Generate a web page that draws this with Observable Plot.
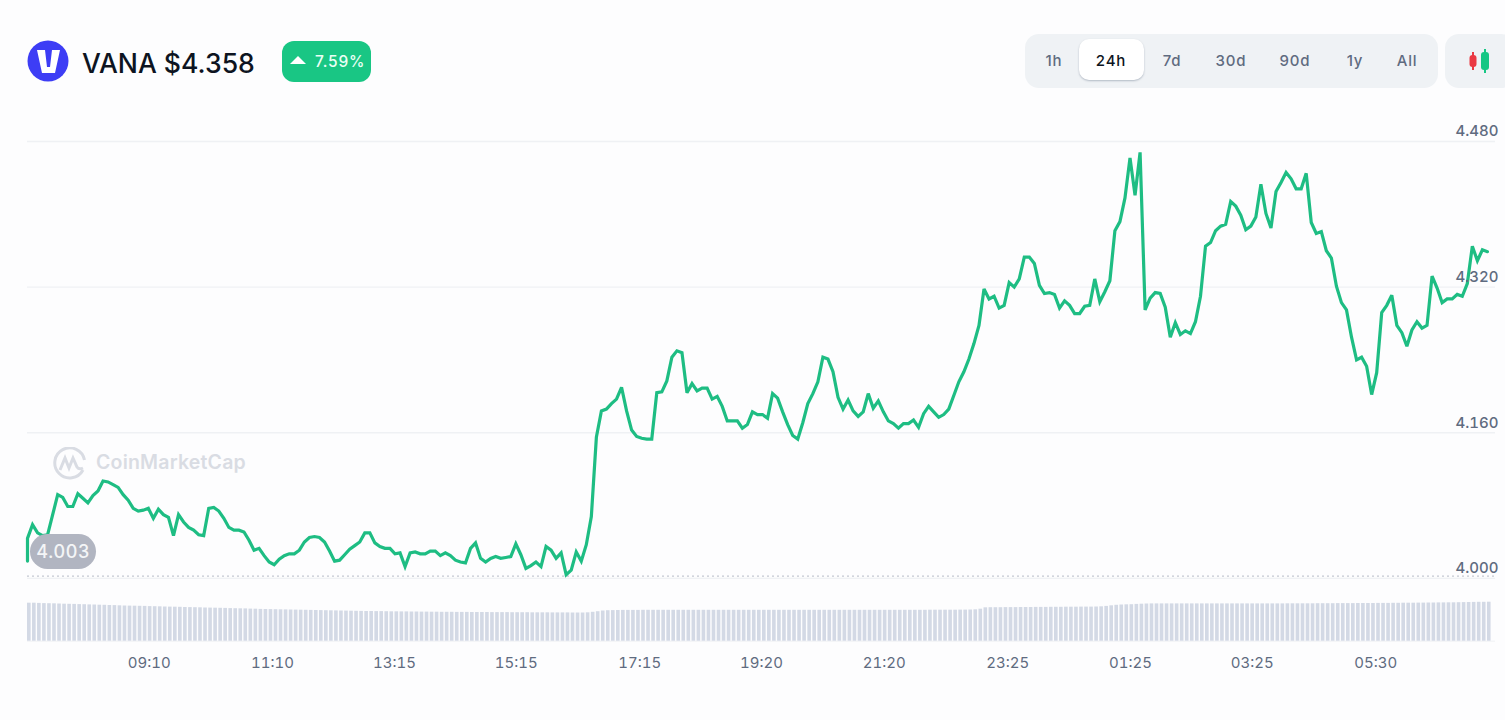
<!DOCTYPE html>
<html>
<head>
<meta charset="utf-8">
<script src="https://cdn.jsdelivr.net/npm/d3@7"></script>
<script src="https://cdn.jsdelivr.net/npm/@observablehq/plot@0.6"></script>
<style>
  html,body{margin:0;padding:0;background:#fdfdfe;}
  #stage{position:relative;width:1505px;height:720px;overflow:hidden;font-family:Inter,"Noto Sans",sans-serif;}
  #stage svg{position:absolute;left:0;}
  .abs{position:absolute;}
  #title{left:82px;top:44px;font-size:26.6px;line-height:38px;font-weight:500;color:#0d1421;white-space:nowrap;}
  #badge{left:282px;top:41px;width:89px;height:41px;border-radius:12px;background:#19c684;color:#eafff5;font-size:15.5px;font-weight:500;line-height:41px;letter-spacing:.8px;}
  #badge i{position:absolute;left:8px;top:15px;width:0;height:0;border-left:8px solid transparent;border-right:8px solid transparent;border-bottom:8px solid #fff;}
  #badge span{position:absolute;left:33px;}
  #group{left:1025px;top:34px;width:413px;height:54px;border-radius:14px;background:#eff2f5;}
  #sel{left:1079px;top:39px;width:65px;height:41px;border-radius:10px;background:#fff;box-shadow:0 1px 2px rgba(88,102,126,.4);}
  .btn{top:39px;height:41px;line-height:43px;font-size:15px;font-weight:500;color:#5f6b80;transform:translateX(-50%);letter-spacing:.8px;}
  #candle{left:1445px;top:34px;width:70px;height:54px;border-radius:14px;background:#eff2f5;}
  #mark{left:96px;top:450px;font-size:19.5px;font-weight:600;color:#d9dce3;letter-spacing:.2px;}
  #pill{left:30px;top:534px;width:66px;height:35px;border-radius:18px;background:#b1b5c1;color:#f4f5f7;text-align:center;line-height:35px;font-size:18px;font-weight:500;letter-spacing:.6px;}
</style>
</head>
<body>
<div id="stage">
  <svg class="abs" style="top:40px;left:27px" width="42" height="42" viewBox="0 0 42 42">
    <circle cx="21" cy="21" r="20.5" fill="#3d3df5"/>
    <path d="M10 10H18L20 27H23L25 10H33L28 33H15Z" fill="#fff"/>
  </svg>
  <div id="title" class="abs">VANA $4.358</div>
  <div id="badge" class="abs"><i></i><span>7.59%</span></div>
  <div id="group" class="abs"></div>
  <div id="sel" class="abs"></div>
  <div id="candle" class="abs"></div>
  <svg class="abs" style="top:46px;left:1466px" width="26" height="30" viewBox="0 0 26 30">
    <path d="M7 6V24" stroke="#ea3943" stroke-width="2"/><rect x="3.5" y="9" width="7" height="12" rx="3" fill="#ea3943"/>
    <path d="M19 3V27" stroke="#16c784" stroke-width="2"/><rect x="15" y="6" width="8" height="18" rx="3" fill="#16c784"/>
  </svg>
  <svg class="abs" style="top:447px;left:53px" width="34" height="34" viewBox="0 0 34 34">
    <path d="M30 23A15 15 0 1 1 31.5 13" fill="none" stroke="#d9dce3" stroke-width="3"/>
    <path d="M7 23L12 11L16 21L20 11L24 20Q26 23 30 21" fill="none" stroke="#d9dce3" stroke-width="3"/>
  </svg>
  <div id="mark" class="abs">CoinMarketCap</div>
</div>
<script>
const prices = [
  4.019,4.044,4.059,4.050,4.047,4.048,4.070,4.092,4.089,4.079,
  4.079,4.093,4.088,4.083,4.091,4.096,4.107,4.106,4.103,4.100,
  4.092,4.086,4.077,4.074,4.075,4.077,4.066,4.076,4.070,4.067,
  4.047,4.070,4.062,4.056,4.053,4.048,4.047,4.077,4.078,4.074,
  4.066,4.056,4.053,4.053,4.051,4.042,4.031,4.033,4.025,4.018,
  4.015,4.021,4.025,4.027,4.027,4.031,4.040,4.045,4.046,4.045,
  4.040,4.030,4.019,4.020,4.026,4.032,4.036,4.040,4.050,4.050,
  4.039,4.035,4.033,4.033,4.027,4.028,4.013,4.028,4.029,4.027,
  4.027,4.030,4.030,4.025,4.028,4.025,4.020,4.018,4.017,4.033,
  4.039,4.022,4.018,4.022,4.024,4.022,4.023,4.024,4.038,4.026,
  4.011,4.014,4.018,4.013,4.035,4.031,4.022,4.028,4.004,4.009,
  4.029,4.019,4.037,4.068,4.155,4.184,4.186,4.192,4.197,4.210,
  4.184,4.163,4.156,4.154,4.153,4.153,4.204,4.205,4.217,4.243,
  4.250,4.248,4.204,4.214,4.206,4.209,4.209,4.197,4.200,4.189,
  4.173,4.173,4.173,4.165,4.169,4.183,4.180,4.180,4.176,4.203,
  4.198,4.183,4.169,4.157,4.153,4.171,4.192,4.203,4.216,4.243,
  4.241,4.227,4.199,4.186,4.196,4.184,4.178,4.183,4.203,4.187,
  4.195,4.183,4.173,4.170,4.165,4.170,4.170,4.174,4.166,4.181,
  4.189,4.183,4.177,4.180,4.186,4.201,4.216,4.227,4.241,4.258,
  4.278,4.318,4.307,4.310,4.297,4.300,4.325,4.320,4.329,4.353,
  4.353,4.346,4.322,4.313,4.314,4.312,4.297,4.305,4.300,4.291,
  4.291,4.299,4.300,4.329,4.304,4.315,4.327,4.382,4.392,4.418,
  4.462,4.421,4.468,4.295,4.308,4.314,4.313,4.298,4.265,4.281,
  4.268,4.272,4.269,4.282,4.310,4.365,4.369,4.382,4.387,4.389,
  4.414,4.409,4.399,4.383,4.387,4.397,4.433,4.401,4.385,4.425,
  4.435,4.446,4.439,4.428,4.428,4.445,4.391,4.379,4.381,4.360,
  4.352,4.321,4.303,4.295,4.265,4.240,4.243,4.233,4.202,4.226,
  4.292,4.300,4.311,4.278,4.270,4.255,4.273,4.282,4.275,4.278,
  4.332,4.319,4.303,4.307,4.307,4.312,4.310,4.324,4.365,4.349,
  4.361,4.359
];
const volumes = [
  38,38,37.8,37.6,37.5,37.4,37.2,37,36.9,36.8,
  36.6,36.5,36.3,36.2,36,35.9,35.7,35.6,35.4,35.2,
  35.1,35,34.9,34.8,34.6,34.5,34.4,34.2,34.1,34,
  33.9,33.7,33.6,33.5,33.4,33.2,33.1,33,32.9,32.8,
  32.6,32.5,32.4,32.3,32.1,32,31.8,31.7,31.6,31.5,
  31.4,31.3,31.2,31.1,31,30.9,30.8,30.7,30.6,30.5,
  30.4,30.3,30.2,30.1,30,29.9,29.8,29.7,29.7,29.6,
  29.6,29.5,29.4,29.4,29.3,29.3,29.2,29.2,29.1,29.1,
  29,29,28.9,28.9,28.9,28.8,28.8,28.8,28.7,28.7,
  28.7,28.7,28.6,28.6,28.6,28.6,28.5,28.5,28.5,28.5,
  28.4,28.4,28.4,28.4,28.3,28.3,28.3,28.3,28.2,28.2,
  28.2,28.4,28.9,29.5,30.2,30.5,30.6,30.7,30.8,30.8,
  30.8,30.8,30.9,30.9,30.9,30.9,30.9,30.9,30.9,30.9,
  30.9,30.9,30.9,30.9,30.9,30.9,30.9,30.9,30.9,30.9,
  30.9,30.9,30.9,30.9,30.9,30.9,30.9,30.9,30.9,30.9,
  30.9,30.9,30.9,30.9,30.9,30.9,30.9,30.9,30.9,30.9,
  30.9,30.9,30.9,30.9,30.9,30.9,30.9,30.9,30.9,30.9,
  30.9,30.9,30.9,30.9,30.9,30.9,30.9,30.9,30.9,31,
  31,31,31,31,31,31.1,31.1,31.2,31.4,32,
  33.4,33.5,33.5,33.5,33.6,33.6,33.6,33.7,33.7,33.7,
  33.8,33.8,33.8,33.9,33.9,33.9,34,34,34,34.1,
  34.1,34.1,34.2,34.4,34.8,35.4,35.9,36.2,36.4,36.5,
  36.8,37,37.2,37.3,37.3,37.3,37.3,37.3,37.3,37.3,
  37.3,37.3,37.3,37.3,37.3,37.3,37.3,37.3,37.3,37.3,
  37.3,37.3,37.3,37.3,37.3,37.3,37.3,37.3,37.3,37.3,
  37.4,37.4,37.4,37.4,37.4,37.4,37.5,37.5,37.5,37.5,
  37.6,37.6,37.6,37.6,37.7,37.7,37.7,37.7,37.8,37.8,
  37.8,37.9,37.9,38,38,38,38.1,38.1,38.2,38.2,
  38.3,38.3,38.4,38.4,38.5,38.6,38.7,38.8,38.9,38.9,39
];
const yTicks = [4.000, 4.160, 4.320, 4.480];
const lowPrice = 4.0025;
const lowLabel = "4.003";
const xTickIndex = [24.2, 48.67, 72.9, 97.1, 121.6, 145.8, 170.2, 194.7, 219.1, 243.3, 267.8];
const xTickLabels = ["09:10","11:10","13:15","15:15","17:15","19:20","21:20","23:25","01:25","03:25","05:30"];
const buttons = ["1h","24h","7d","30d","90d","1y","All"];
const buttonCenters = [1054,1111,1172,1231,1295,1355,1407];

const stage = document.getElementById("stage");
buttons.forEach((b,k)=>{
  const d=document.createElement("div");
  d.className="abs btn"; d.textContent=b; d.style.left=buttonCenters[k]+"px";
  if(b==="24h"){d.style.color="#0d1421";}
  stage.appendChild(d);
});

const lastIndex = prices.length - 2;
const xDomain = [0, lastIndex + 1.6];
const font = 'Inter,"Noto Sans",sans-serif';
const rows = prices.map((p,k)=>({i:Math.max(0,k-1),p}));

const pricePlot = Plot.plot({
  width:1505, height:590,
  marginLeft:27, marginRight:10, marginTop:100, marginBottom:12,
  style:{background:"transparent",fontFamily:font,fontSize:"15px",color:"#5f6b80"},
  x:{domain:xDomain,axis:null},
  y:{domain:[4,4.48],range:[577.9,141],axis:null},
  marks:[
    Plot.ruleY(yTicks,{stroke:"#eff1f4",strokeWidth:1.3}),
    Plot.ruleY([lowPrice],{stroke:"#c3c8d1",strokeWidth:1.2,strokeDasharray:"2 3"}),
    Plot.line(rows,{x:"i",y:"p",stroke:"#1ebd83",strokeWidth:3.2,strokeLinejoin:"miter",strokeMiterlimit:3,curve:"linear"}),
    Plot.axisY(yTicks,{anchor:"right",tickSize:0,tickPadding:3,textAnchor:"end",dy:-10,
      tickFormat:d=>d.toFixed(3),fill:"#5f6b80",fontWeight:500,label:null})
  ]
});
pricePlot.style.top="0px";
stage.appendChild(pricePlot);

const volPlot = Plot.plot({
  width:1505, height:100,
  marginLeft:27, marginRight:10, marginTop:5, marginBottom:49.3,
  style:{background:"transparent",fontFamily:font,fontSize:"15px",color:"#5f6b80"},
  x:{domain:xDomain,axis:null},
  y:{domain:[0,38],range:[50.7,12.7],axis:null},
  marks:[
    Plot.ruleY([0],{stroke:"#eff1f4",strokeWidth:1}),
    Plot.rectY(volumes,{x1:(d,k)=>k,x2:(d,k)=>k+0.72,y1:0,y2:d=>d,fill:"#d3d9e5"}),
    Plot.axisX(xTickIndex,{anchor:"bottom",tickSize:0,tickPadding:16,
      tickFormat:d=>xTickLabels[xTickIndex.indexOf(d)],fill:"#5f6b80",label:null})
  ]
});
volPlot.style.top="590px";
volPlot.style.overflow="visible";
stage.appendChild(volPlot);

const pill=document.createElement("div");
pill.id="pill"; pill.className="abs"; pill.textContent=lowLabel;
stage.appendChild(pill);
</script>
</body>
</html>
